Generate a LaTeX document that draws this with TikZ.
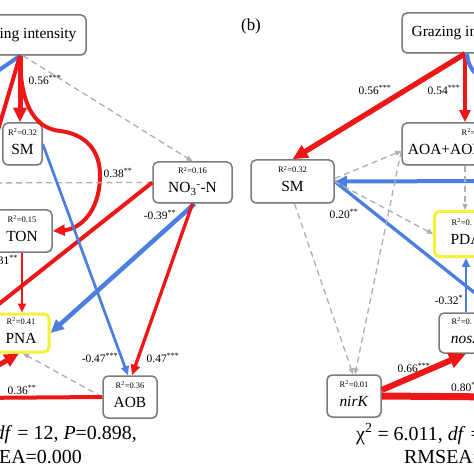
\documentclass[tikz,border=0pt]{standalone}
\usepackage{fontspec}
\setmainfont{Liberation Serif}
\usetikzlibrary{arrows.meta,shadows}
\definecolor{myred}{RGB}{238,22,22}
\definecolor{myblue}{RGB}{76,126,224}
\definecolor{dashgray}{RGB}{175,175,175}
\definecolor{boxgray}{RGB}{120,125,125}
\definecolor{hiyellow}{RGB}{245,240,60}
\newcommand{\rsq}[1]{{\fontsize{8.5}{9}\selectfont R\textsuperscript{2}=#1}}
\newcommand{\stars}[1]{\textsuperscript{#1}}
\begin{document}
\begin{tikzpicture}[x=1bp, y=-1bp,
  box/.style={draw=boxgray, line width=1.5bp, rounded corners=5bp, fill=white,
    align=center, inner sep=0pt, font=\fontsize{15.5}{16}\selectfont,
    drop shadow={shadow xshift=1bp, shadow yshift=-1bp, opacity=0.25}},
  box2/.style={box, text depth=5bp},
  ybox/.style={box2, draw=hiyellow, line width=3bp},
  rl/.style={draw=myred, line width=#1},
  bl/.style={draw=myblue, line width=#1},
  atip/.style={-{Triangle[length=2.5bp 2.4, width=2bp 2.2]}},
  nsline/.style={draw=dashgray, line width=1.3bp, dash pattern=on 6bp off 4bp},
  dtip/.style={-{Triangle[length=6bp, width=5bp]}},
  lab/.style={font=\fontsize{11.5}{12}\selectfont, inner sep=0pt},
  bigtxt/.style={font=\fontsize{20}{21}\selectfont, inner sep=0pt}]
\useasboundingbox (0,0) rectangle (474,474);
\clip (0,0) rectangle (474,474);
\fill[white] (0,0) rectangle (474,474);

% left panel nodes
\node[box, minimum width=126bp, minimum height=40bp] (gl) at (23,35) {Grazing intensity};
\node[box2, minimum width=39bp, minimum height=42bp] (sml) at (22.5,144) {\rsq{0.32}\\[3bp]SM};
\node[box2, minimum width=60bp, minimum height=42bp] (tonl) at (22,231) {\rsq{0.15}\\[3bp]TON};
\node[ybox, minimum width=56bp, minimum height=38bp] (pnal) at (21,333) {\rsq{0.41}\\[3bp]PNA};
\node[box2, minimum width=79bp, minimum height=41bp] (no3) at (192.5,182.5) {\rsq{0.16}\\[3bp]NO\textsubscript{3}\textsuperscript{-}-N};
\node[box2, minimum width=54bp, minimum height=42bp] (aobl) at (130,397) {\rsq{0.36}\\[3bp]AOB};

% right panel nodes
\node[box, minimum width=126bp, minimum height=40bp] (gr) at (465,33) {Grazing intensity};
\node[box2, minimum width=148bp, minimum height=42bp] (aoa) at (476,144) {\rsq{0.\phantom{00}}\\[3bp]AOA+AOB/\hspace*{57bp}};
\node[box2, minimum width=83bp, minimum height=43bp] (smr) at (292.5,181.5) {\rsq{0.32}\\[3bp]SM};
\node[ybox, minimum width=63bp, minimum height=45bp] (pda) at (466,234) {\rsq{0.\phantom{00}}\\[3bp]PDA};
\node[box2, minimum width=54bp, minimum height=40bp] (nos) at (466,333) {\rsq{0.\phantom{00}}\\[3bp]\textit{nosZ}};
\node[box2, minimum width=54bp, minimum height=42bp] (nirk) at (354,396) {\rsq{0.01}\\[3bp]\textit{nirK}};

% coordinates
\coordinate (gls) at ([xshift=-3bp]gl.south);
\coordinate (grs) at (gr.south);
\coordinate (offA) at (-30,90);
\coordinate (offB) at (-10,157);
\coordinate (offC) at (-30,183);
\coordinate (offD) at (-20,319);
\coordinate (offE) at (-40,387);
\coordinate (offF) at (-30,398);
\coordinate (offG) at (500,80);
\coordinate (offH) at (500,181);
\coordinate (offI) at (500,313);
\coordinate (offJ) at (500,397);

% left connectors
\draw[bl=4bp] (gls) -- (offA);
\draw[rl=4bp] (gls) -- (offB);
\draw[rl=5bp, atip] (gls) -- (gls |- sml.north);
\draw[rl=4bp, atip] (gls) .. controls (20,100) and (32,128) .. (60,131)
  .. controls (85,134) and (101,150) .. (100,178)
  .. controls (99,212) and (80,229) .. (tonl.east);
\draw[nsline, dtip] (gl.south) -- (no3.north);
\draw[nsline] (no3.west) -- (offC);
\draw[rl=4bp] (no3.west) -- (offD);
\draw[bl=4.5bp, atip] ([xshift=2bp]no3.south) -- (pnal.east);
\draw[rl=3.3bp, atip] (no3.south) -- ([xshift=2bp]aobl.north);
\draw[bl=2.7bp, atip] (sml.east) -- ([xshift=-2bp]aobl.north);
\draw[rl=2.7bp, atip] (tonl.south) -- (tonl.south |- pnal.north);
\draw[rl=5bp, atip] (offE) -- ([xshift=-2bp]pnal.south);
\draw[nsline, dtip] (aobl.west) -- ([xshift=2bp]pnal.south);
\draw[rl=4bp, atip] (aobl.west) -- (offF);

% right connectors
\draw[rl=5.3bp, atip] (grs) -- (smr.north);
\draw[rl=4bp, atip] (grs) -- (grs |- aoa.north);
\draw[bl=4bp] ([xshift=2bp]grs) .. controls (469,72) and (478,80) .. (offG);
\draw[bl=4bp, atip] (offH) -- (smr.east);
\draw[bl=3.3bp, atip] (smr.east) -- (offI);
\draw[nsline, dtip] (smr.east) -- (pda.west);
\draw[nsline, dtip] ([yshift=3bp]smr.east) -- ([yshift=-7bp]aoa.west);
\draw[nsline, dtip] ([yshift=-7bp]aoa.west) -- ([xshift=1bp]nirk.north);
\draw[nsline, dtip] ([xshift=2bp]smr.south) -- ([xshift=-1bp]nirk.north);
\draw[nsline, dtip] (grs |- aoa.south) -- (grs |- pda.north);
\draw[bl=2.7bp, atip] (nos.north) -- (pda.south);
\draw[rl=6bp, atip] ([yshift=6bp]nirk.east) -- (nos.south);
\draw[rl=7bp, atip] (nirk.east) -- (offJ);

% labels left
\node[lab] (la1) at (45,80) {0.56\stars{***}};
\node[lab] (la2) at (118,173) {0.38\stars{**}};
\node[lab] (la3) at (160,215) {-0.39\stars{**}};
\node[lab, anchor=east] (la4) at (18,260) {0.31\stars{**}};
\node[lab] (la5) at (100,358) {-0.47\stars{***}};
\node[lab] (la6) at (163,358) {0.47\stars{***}};
\node[lab] (la7) at (22,390) {0.36\stars{**}};
% labels right
\node[font=\fontsize{17}{18}\selectfont, inner sep=0pt] (pb) at (251,26) {(b)};
\node[lab] (lb1) at (375,90) {0.56\stars{***}};
\node[lab] (lb2) at (444,90) {0.54\stars{***}};
\node[lab] (lb3) at (344,214) {0.20\stars{**}};
\node[lab] (lb4) at (449,300) {-0.32\stars{*}};
\node[lab] (lb5) at (414,368) {0.66\stars{***}};
\node[lab, anchor=west] (lb6) at (451,387) {0.80\stars{***}};

% fit statistics
\node[bigtxt, anchor=base east] (fl1) at (137,439) {\textit{df} = 12, \textit{P}=0.898,};
\node[bigtxt, anchor=base east] (fl2) at (82,463) {RMSEA=0.000};
\node[bigtxt, anchor=base west] (fr1) at (356,440) {χ\textsuperscript{2} = 6.011, \textit{df} =};
\node[bigtxt, anchor=base west] (fr2) at (404,463) {RMSEA=};
\end{tikzpicture}
\end{document}
